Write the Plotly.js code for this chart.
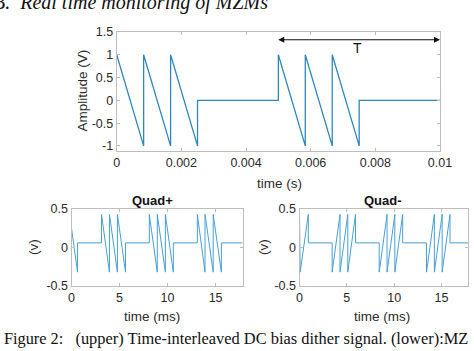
<!DOCTYPE html>
<html>
<head>
<meta charset="utf-8">
<script src="https://cdn.plot.ly/plotly-3.0.1.min.js"></script>
<style>html,body{margin:0;padding:0;background:#fff;}#chart{width:474px;height:351px;}</style>
</head>
<body>
<div id="chart"></div>
<script>
// ---- Upper plot: time-interleaved DC bias dither signal (time in s, amplitude in V)
const topTime = [0, 0.000833, 0.000833, 0.001667, 0.001667, 0.0025, 0.0025, 0.005, 0.005, 0.005833, 0.005833, 0.006667, 0.006667, 0.0075, 0.0075, 0.01];
const topAmp  = [1, -1, 1, -1, 1, -1, 0, 0, 1, -1, 1, -1, 1, -1, 0, 0];
const topXTickVals = [0, 0.002, 0.004, 0.006, 0.008, 0.01];
const topXTickText = ["0", "0.002", "0.004", "0.006", "0.008", "0.01"];
const topYTickVals = [-1, -0.5, 0, 0.5, 1, 1.5];
const topYTickText = ["-1", "-0.5", "0", "0.5", "1", "1.5"];
const periodArrowStart = 0.00495, periodArrowEnd = 0.01, periodArrowLevel = 1.33;
const periodLabel = "T";

// ---- Lower plots (time in ms, value in V)
const quadPlusTime = [0, 0.63, 0.63, 3.12, 3.12, 3.95, 3.95, 4.78, 4.78, 5.62, 5.62, 8.1, 8.1, 8.93, 8.93, 9.77, 9.77, 10.6, 10.6, 13.1, 13.1, 13.9, 13.9, 14.75, 14.75, 15.6, 15.6, 17.8];
const quadPlusVal  = [0.25, -0.32, 0.06, 0.06, 0.43, -0.32, 0.43, -0.32, 0.43, -0.32, 0.06, 0.06, 0.43, -0.32, 0.43, -0.32, 0.43, -0.32, 0.06, 0.06, 0.43, -0.32, 0.43, -0.32, 0.43, -0.32, 0.06, 0.06];
const quadMinusTime = [0, 0.07, 0.93, 0.93, 3.45, 3.45, 4.28, 4.28, 5.1, 5.1, 5.92, 5.92, 8.42, 8.42, 9.25, 9.25, 10.07, 10.07, 10.9, 10.9, 13.42, 13.42, 14.25, 14.25, 15.07, 15.07, 15.9, 15.9, 17.8];
const quadMinusVal  = [0.43, -0.32, 0.43, 0.06, 0.06, -0.32, 0.43, -0.32, 0.43, -0.32, 0.43, 0.06, 0.06, -0.32, 0.43, -0.32, 0.43, -0.32, 0.43, 0.06, 0.06, -0.32, 0.43, -0.32, 0.43, -0.32, 0.43, 0.06, 0.06];
const lowXTickVals = [0, 5, 10, 15];
const lowXTickText = ["0", "5", "10", "15"];
const lowYTickVals = [-0.5, 0, 0.5];
const lowYTickText = ["-0.5", "0", "0.5"];
const lowTitles = ["Quad+", "Quad-"];

const W = 474, H = 351;
const px = v => v / W;
const py = v => (H - v) / H;

const sans = "Liberation Sans, Arial, Helvetica, sans-serif";
const serif = "Liberation Serif, Times New Roman, serif";
const tickFont = {family: sans, size: 12.5, color: "#2a2a2a"};
const titleFont = {family: sans, size: 13.5, color: "#2a2a2a"};
const boxCol = "#bdbdbd";

function axisCommon(extra) {
  return Object.assign({
    showline: true, linecolor: boxCol, linewidth: 1, mirror: "ticks",
    ticks: "inside", ticklen: 3, tickcolor: boxCol, tickwidth: 1,
    showgrid: false, zeroline: false, tickfont: tickFont, fixedrange: true,
    tickmode: "array"
  }, extra);
}

function label(text, x, y, opts) {
  return Object.assign({xref: "paper", yref: "paper", x: px(x), y: py(y), text: text,
    showarrow: false, xanchor: "center", yanchor: "middle", font: titleFont}, opts || {});
}

const traces = [
  {x: topTime, y: topAmp, xaxis: "x", yaxis: "y", mode: "lines", line: {color: "#2f87bb", width: 1.3}, hoverinfo: "skip"},
  {x: quadPlusTime, y: quadPlusVal, xaxis: "x2", yaxis: "y2", mode: "lines", line: {color: "#47a0d4", width: 1}, hoverinfo: "skip"},
  {x: quadMinusTime, y: quadMinusVal, xaxis: "x3", yaxis: "y3", mode: "lines", line: {color: "#47a0d4", width: 1}, hoverinfo: "skip"}
];

const layout = {
  width: W, height: H,
  margin: {l: 0, r: 0, t: 0, b: 0},
  paper_bgcolor: "#fff", plot_bgcolor: "#fff",
  showlegend: false,
  xaxis: axisCommon({domain: [px(116.7), px(440)], anchor: "y", range: [0, 0.01],
    tickvals: topXTickVals, ticktext: topXTickText}),
  yaxis: axisCommon({domain: [py(150.5), py(32)], anchor: "x", range: [-1.1, 1.5],
    tickvals: topYTickVals, ticktext: topYTickText}),
  xaxis2: axisCommon({domain: [px(71.5), px(242.5)], anchor: "y2", range: [0, 17.8],
    tickvals: lowXTickVals, ticktext: lowXTickText}),
  yaxis2: axisCommon({domain: [py(286), py(209)], anchor: "x2", range: [-0.5, 0.5],
    tickvals: lowYTickVals, ticktext: lowYTickText}),
  xaxis3: axisCommon({domain: [px(299.5), px(468)], anchor: "y3", range: [0, 17.8],
    tickvals: lowXTickVals, ticktext: lowXTickText}),
  yaxis3: axisCommon({domain: [py(286), py(209)], anchor: "x3", range: [-0.5, 0.5],
    tickvals: lowYTickVals, ticktext: lowYTickText}),
  annotations: [
    {xref: "x", yref: "y", axref: "x", ayref: "y",
     x: periodArrowEnd, y: periodArrowLevel, ax: periodArrowStart, ay: periodArrowLevel,
     text: "", showarrow: true, arrowhead: 2, arrowside: "end+start", arrowsize: 1,
     arrowwidth: 1.2, arrowcolor: "#111", standoff: 0, startstandoff: 0},
    {xref: "x", yref: "y", x: 0.00745, y: 1.14, text: periodLabel, showarrow: false,
     font: {family: sans, size: 14, color: "#111"}},
    // axis titles
    label("time (s)", 279, 183.5),
    label("Amplitude (V)", 81.5, 91, {textangle: -90}),
    label("time (ms)", 152, 316),
    label("time (ms)", 382, 316),
    label("(v)", 33, 247, {textangle: -90}),
    label("(v)", 263, 247, {textangle: -90}),
    // panel titles
    label("<b>" + lowTitles[0] + "</b>", 152.5, 200, {font: {family: sans, size: 13, color: "#111"}}),
    label("<b>" + lowTitles[1] + "</b>", 383, 200, {font: {family: sans, size: 13, color: "#111"}}),
    // surrounding page text (cropped at the top edge, as in the reference page)
    label("<i>B.\u00a0\u00a0Real time monitoring of MZMs</i>", -9, 2, {xanchor: "left",
      font: {family: serif, size: 20, color: "#111"}}),
    label("<span style=\"font-size:16.3px\">Figure 2:\u00a0\u00a0\u00a0</span>(upper) Time-interleaved DC bias dither signal. (lower):MZ", 2, 338.5,
      {xanchor: "left", font: {family: serif, size: 16.4, color: "#111"}})
  ]
};

Plotly.newPlot("chart", traces, layout, {displayModeBar: false, staticPlot: true});
</script>
</body>
</html>
